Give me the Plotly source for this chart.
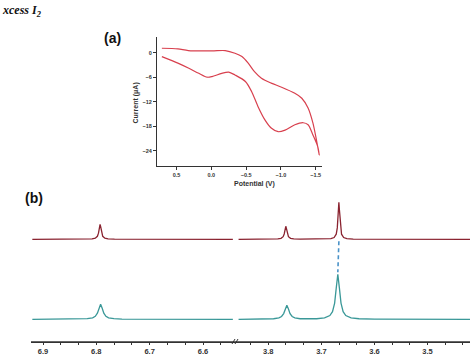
import plotly.graph_objects as go

# ---------------- (a) cyclic voltammogram ----------------
cv_potential = [0.71, 0.48, 0.33, -0.01, -0.20, -0.34, -0.44, -0.53, -0.62, -0.72, -0.86, -1.01,
                -1.20, -1.30, -1.39, -1.46, -1.51, -1.55,
                -1.53, -1.46, -1.39, -1.32, -1.20, -1.06, -0.96, -0.86, -0.77, -0.67, -0.58,
                -0.49, -0.34, -0.25, -0.15, -0.01, 0.06, 0.18, 0.33, 0.48, 0.71]
cv_current = [1.15, 1.0, 0.57, 0.5, 0.57, -0.08, -0.9, -2.5, -4.6, -6.2, -7.4, -8.4,
              -9.9, -11.1, -13.5, -17.2, -21.3, -25.0,
              -23.0, -20.1, -17.6, -17.1, -17.6, -18.9, -19.3, -18.4, -16.4, -13.1, -9.5,
              -7.0, -5.4, -4.7, -5.0, -5.8, -5.95, -5.0, -3.7, -2.5, -0.9]
cv_xticks = [0.5, 0.0, -0.5, -1.0, -1.5]
cv_yticks = [0, -6, -12, -18, -24]

# ---------------- (b) 1H NMR spectra ----------------
top_left_ppm = [6.920, 6.820, 6.808, 6.802, 6.798, 6.796, 6.794, 6.793, 6.792, 6.790, 6.788,
                6.784, 6.778, 6.766, 6.544]
top_left_int = [0, 0.13, 0.4, 1.07, 3.0, 6.1, 12.9, 15, 12.9, 6.1, 3.0, 1.07, 0.4, 0.13, 0]
top_right_ppm = [3.856, 3.794, 3.782, 3.776, 3.772, 3.770, 3.768, 3.767, 3.766, 3.764, 3.762,
                 3.758, 3.752, 3.740, 3.720,
                 3.694, 3.682, 3.676, 3.672, 3.670, 3.668, 3.667, 3.666, 3.664, 3.662,
                 3.658, 3.652, 3.640, 3.600, 3.420]
top_right_int = [0, 0.11, 0.35, 0.93, 2.6, 5.3, 11.2, 13, 11.2, 5.3, 2.6, 0.93, 0.35, 0.11, 0.05,
                 0.2, 0.65, 1.74, 5.1, 11.4, 29.6, 37, 29.6, 11.4, 5.1, 1.74, 0.65, 0.2, 0.05, 0]
bot_left_ppm = [6.920, 6.832, 6.817, 6.807, 6.802, 6.798, 6.795, 6.792, 6.789, 6.786, 6.782,
                6.777, 6.767, 6.752, 6.544]
bot_left_int = [0, 0.23, 0.58, 1.5, 3, 6.1, 11, 15, 11, 6.1, 3, 1.5, 0.58, 0.23, 0]
bot_right_ppm = [3.856, 3.805, 3.790, 3.780, 3.775, 3.771, 3.768, 3.765, 3.762, 3.759, 3.755,
                 3.750, 3.740, 3.725,
                 3.709, 3.694, 3.684, 3.679, 3.675, 3.672, 3.669, 3.666, 3.663, 3.659,
                 3.654, 3.644, 3.629, 3.600, 3.420]
bot_right_int = [0, 0.21, 0.54, 1.4, 2.8, 5.7, 10.3, 14, 10.3, 5.7, 2.8, 1.4, 0.54, 0.21,
                 0.56, 1.41, 3.7, 7.6, 16.2, 31.2, 45, 31.2, 16.2, 7.6, 3.7, 1.41, 0.56, 0.2, 0]
nmr_left_ticks = [6.9, 6.8, 6.7, 6.6]
nmr_right_ticks = [3.8, 3.7, 3.6, 3.5]
top_offset = 80

W, H = 474, 363
def px(x): return x / W
def py(y): return 1 - y / H

TOP_C = "#8a2330"
BOT_C = "#3a9898"
CV_C = "#d8404e"
AX_C = "#333333"

fig = go.Figure()

fig.add_trace(go.Scatter(x=top_left_ppm, y=[v + top_offset for v in top_left_int], mode="lines",
                         line=dict(color=TOP_C, width=1.3), xaxis="x", yaxis="y", showlegend=False))
fig.add_trace(go.Scatter(x=top_right_ppm, y=[v + top_offset for v in top_right_int], mode="lines",
                         line=dict(color=TOP_C, width=1.3), xaxis="x2", yaxis="y", showlegend=False))
fig.add_trace(go.Scatter(x=bot_left_ppm, y=bot_left_int, mode="lines",
                         line=dict(color=BOT_C, width=1.3), xaxis="x", yaxis="y", showlegend=False))
fig.add_trace(go.Scatter(x=bot_right_ppm, y=bot_right_int, mode="lines",
                         line=dict(color=BOT_C, width=1.3), xaxis="x2", yaxis="y", showlegend=False))

i_top = top_right_int.index(max(top_right_int))
i_bot = bot_right_int.index(max(bot_right_int))
fig.add_trace(go.Scatter(x=[top_right_ppm[i_top], bot_right_ppm[i_bot]],
                         y=[top_offset - 2, bot_right_int[i_bot] + 2], mode="lines",
                         line=dict(color="#4a92c8", width=1.6, dash="4px,3px"),
                         xaxis="x2", yaxis="y", showlegend=False))

fig.add_trace(go.Scatter(x=cv_potential, y=cv_current, mode="lines",
                         line=dict(color=CV_C, width=1.2, shape="spline", smoothing=0.8),
                         xaxis="x3", yaxis="y3", showlegend=False))

tickfont_b = dict(family="Liberation Sans, Arial", size=7.5, color=AX_C, weight="bold")
tickfont_a = dict(family="Liberation Sans, Arial", size=5.5, color=AX_C, weight="bold")

common_b = dict(showline=True, linecolor=AX_C, linewidth=1.3, ticks="outside", ticklen=2,
                tickwidth=1, tickcolor=AX_C, showgrid=False, zeroline=False, tickfont=tickfont_b,
                tickformat=".1f", anchor="y",
                minor=dict(dtick=0.1 / 3, tick0=0, ticks="outside", ticklen=2, tickcolor=AX_C,
                           tickwidth=1, showgrid=False))

fig.update_layout(
    width=W, height=H, margin=dict(l=0, r=0, t=0, b=0),
    paper_bgcolor="white", plot_bgcolor="rgba(0,0,0,0)",
    xaxis=dict(domain=[px(31), px(235)], range=[6.9225, 6.540], tickvals=nmr_left_ticks, **common_b),
    xaxis2=dict(domain=[px(235), px(470)], range=[3.8627, 3.420], tickvals=nmr_right_ticks, **common_b),
    yaxis=dict(domain=[py(342), py(190)], range=[-22.7, 129.3], visible=False),
    xaxis3=dict(domain=[px(157), px(322)], range=[0.78, -1.59], anchor="y3",
                tickvals=cv_xticks, tickformat=".1f", showline=True, linecolor=AX_C, linewidth=1,
                ticks="outside", ticklen=3, tickcolor=AX_C, showgrid=False, zeroline=False,
                tickfont=tickfont_a),
    yaxis3=dict(domain=[py(166), py(37)], range=[-27.7, 3.9], anchor="x3",
                tickvals=cv_yticks, showline=True, linecolor=AX_C, linewidth=1,
                ticks="outside", ticklen=3, tickcolor=AX_C, showgrid=False, zeroline=False,
                tickfont=tickfont_a),
)

# bottom axis baseline (drawn explicitly so it is always visible)
fig.add_shape(type="line", xref="paper", yref="paper", layer="above",
              x0=px(31), y0=py(342), x1=px(470), y1=py(342),
              line=dict(color=AX_C, width=1.3))
# axis-break mark "//"
for dx in (-1.5, 1.5):
    fig.add_shape(type="line", xref="paper", yref="paper",
                  x0=px(235 + dx - 1.5), y0=py(344), x1=px(235 + dx + 1.5), y1=py(339),
                  line=dict(color=AX_C, width=1))

ann = [
    dict(text="<b><i>xcess I<sub>2</sub></i></b>", x=px(0), y=py(11), xanchor="left", yanchor="middle",
         font=dict(family="Liberation Serif, Times New Roman", size=12, color="#111111")),
    dict(text="<b>(a)</b>", x=px(112.5), y=py(38), xanchor="center", yanchor="middle",
         font=dict(family="Liberation Sans, Arial", size=14, color="#111111")),
    dict(text="<b>(b)</b>", x=px(33.5), y=py(198), xanchor="center", yanchor="middle",
         font=dict(family="Liberation Sans, Arial", size=14, color="#111111")),
    dict(text="<b>Current (μA)</b>", x=px(135.5), y=py(103), xanchor="center", yanchor="middle",
         textangle=-90, font=dict(family="Liberation Sans, Arial", size=7, color=AX_C)),
    dict(text="<b>Potential (V)</b>", x=px(254), y=py(184), xanchor="center", yanchor="middle",
         font=dict(family="Liberation Sans, Arial", size=7, color=AX_C)),
]
for a in ann:
    a.update(xref="paper", yref="paper", showarrow=False)
fig.update_layout(annotations=ann)

fig.write_html("out.html", config={"displayModeBar": False},
               post_script="document.body.style.margin='0';")
